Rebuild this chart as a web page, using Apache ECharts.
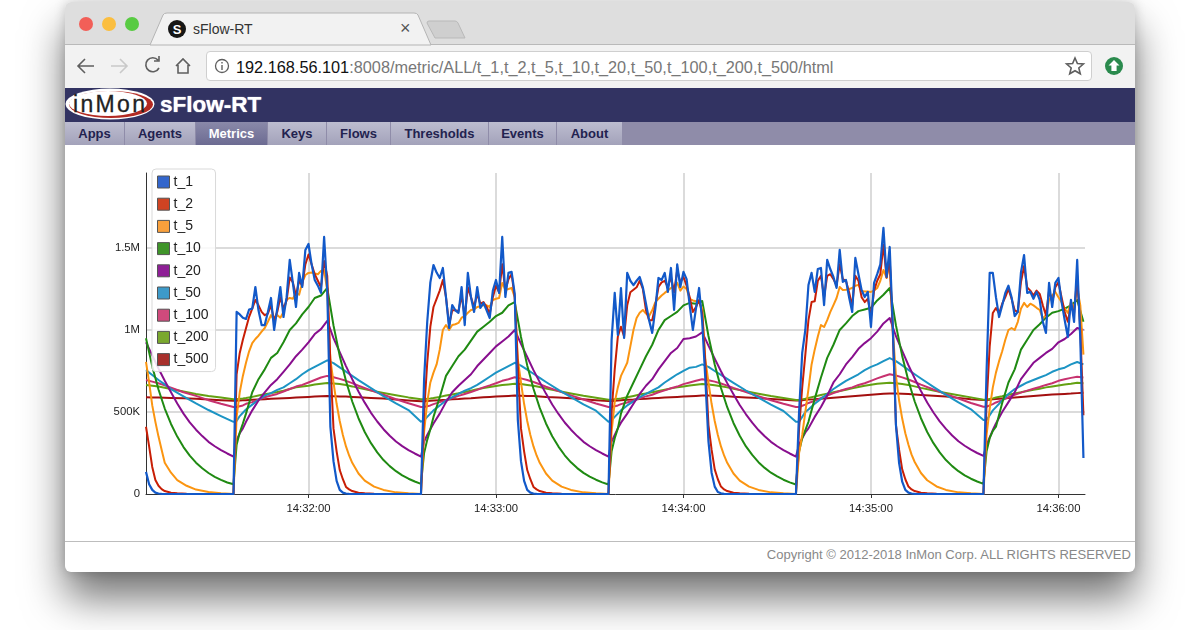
<!DOCTYPE html>
<html>
<head>
<meta charset="utf-8">
<title>sFlow-RT</title>
<script src="https://cdn.jsdelivr.net/npm/echarts@6/dist/echarts.min.js"></script>
<style>
html,body{margin:0;padding:0;width:1200px;height:630px;overflow:hidden;background:#fff;font-family:"Liberation Sans",Arial,sans-serif}
#win{position:absolute;left:65px;top:2px;width:1070px;height:570px;background:#fff;border-radius:6px;box-shadow:0 26px 42px rgba(0,0,0,.55),0 0 12px rgba(0,0,0,.18);overflow:hidden}
.abs{position:absolute}
#titlebar{left:0;top:0;width:1070px;height:42px;background:#dedede}
#toolbar{left:0;top:42px;width:1070px;height:44px;background:#f2f2f2;border-top:1px solid #b9b9b9;box-sizing:border-box}
#addr{left:141px;top:49px;width:886px;height:30px;background:#fff;border:1px solid #cfcfcf;border-radius:4px;box-sizing:border-box}
#url{left:171px;top:55px;font-size:16.3px;line-height:20px;color:#777;white-space:nowrap}
#url b{font-weight:normal;color:#111}
#tabtitle{left:128px;top:19px;font-size:14px;line-height:16px;color:#333}
#tabclose{left:335px;top:16px;font-size:18px;line-height:20px;color:#555}
#header{left:0;top:86px;width:1070px;height:34px;background:#323362}
#brand{left:95px;top:90px;font-size:22.5px;line-height:26px;font-weight:bold;color:#fff;text-shadow:0 0 1px #fff}
#nav{left:0;top:120px;width:1070px;height:23px;background:#8f8ca9}
#nav a{position:absolute;top:0;height:23px;line-height:23px;text-align:center;font-size:13px;font-weight:bold;color:#22224f;background:linear-gradient(#bdbdd0,#a3a2ba);border-right:1px solid #8f8ca9;box-sizing:border-box}
#nav a.on{color:#fff;background:linear-gradient(#8a89a9,#6c6b92)}
#chart{left:0;top:143px;width:1070px;height:396px}
#footline{left:0;top:539px;width:1070px;height:1px;background:#bdbdbd}
#copy{right:4px;top:545px;font-size:13.05px;line-height:16px;color:#888}
</style>
</head>
<body>
<div id="win">
	<div class="abs" id="titlebar"></div>
	<div class="abs" id="toolbar"></div>
	<div class="abs" id="addr"></div>
	<svg class="abs" style="left:0;top:0" width="1070" height="86">
		<circle cx="21" cy="22" r="7" fill="#f25f58"/>
		<circle cx="44" cy="22" r="7" fill="#fbbe3f"/>
		<circle cx="67" cy="22" r="7" fill="#58cb42"/>
		<path d="M85 43 L98 13 Q99 11 102 11 L349 11 Q352 11 353 13 L366 43 Z" fill="#f2f2f2" stroke="#b4b4b4"/>
		<path d="M362 21 Q362 19 364 19 L390 19 Q392 19 393 21 L400 36 L370 36 Z" fill="#cfcfcf" stroke="#b9b9b9"/>
		<circle cx="112" cy="27" r="9" fill="#161616"/>
		<text x="112" y="32" text-anchor="middle" font-size="13" font-weight="bold" fill="#fff" font-family="Liberation Sans">S</text>
		<g fill="none" stroke="#5f5f5f" stroke-width="1.6">
			<path d="M29 64 H14 M20 57 L13 64 L20 71"/>
			<path d="M46 64 H61 M55 57 L62 64 L55 71" stroke="#c9c9c9"/>
			<path d="M93 58 A7 7 0 1 0 94 66 M94 54 V59 H89"/>
			<path d="M111 64 L118 57 L125 64 M113 63 V71 H123 V63"/>
			<circle cx="157" cy="64" r="6.5" stroke-width="1.3"/>
			<path d="M157 63 V68 M157 60 V61.4" stroke-width="1.4"/>
			<path d="M1010 56 L1012.4 61.6 L1018.4 62 L1013.8 66 L1015.3 71.8 L1010 68.7 L1004.7 71.8 L1006.2 66 L1001.6 62 L1007.6 61.6 Z"/>
		</g>
		<circle cx="1049" cy="64" r="9" fill="#2a8a4d"/>
		<path d="M1049 58 L1054.5 63.6 H1051.6 V69 H1046.4 V63.6 H1043.5 Z" fill="#fff"/>
	</svg>
	<div class="abs" id="tabtitle">sFlow-RT</div>
	<div class="abs" id="tabclose">×</div>
	<div class="abs" id="url"><b>192.168.56.101</b>:8008/metric/ALL/t_1,t_2,t_5,t_10,t_20,t_50,t_100,t_200,t_500/html</div>
	<div class="abs" id="header"></div>
	<svg class="abs" style="left:0;top:86px" width="100" height="34">
		<ellipse cx="45" cy="16" rx="44.5" ry="15.5" fill="#fff"/>
		<ellipse cx="46" cy="16.5" rx="42" ry="13.5" fill="#b32a22"/>
		<ellipse cx="43" cy="15.5" rx="39" ry="12.5" fill="#fff"/>
		<text x="44" y="23.5" text-anchor="middle" font-size="23" stroke="#222" stroke-width=".3" fill="#222" textLength="72" lengthAdjust="spacing" font-family="Liberation Sans">inMon</text>
	</svg>
	<div class="abs" id="brand">sFlow-RT</div>
	<div class="abs" id="nav">
		<a style="left:0;width:60px">Apps</a>
		<a style="left:60px;width:71px">Agents</a>
		<a class="on" style="left:131px;width:72px">Metrics</a>
		<a style="left:203px;width:59px">Keys</a>
		<a style="left:262px;width:64px">Flows</a>
		<a style="left:326px;width:98px">Thresholds</a>
		<a style="left:424px;width:68px">Events</a>
		<a style="left:492px;width:66px">About</a>
	</div>
	<div class="abs" id="chart"></div>
	<div class="abs" id="footline"></div>
	<div class="abs" id="copy">Copyright © 2012-2018 InMon Corp. ALL RIGHTS RESERVED</div>
</div>
<script>
//每个周期的起始时间(14:30:36起,每60秒一次)
var cycleStarts = ["14:30:36","14:31:36","14:32:36","14:33:36","14:34:36","14:35:36"];
var firstSample = "14:31:08", lastSample = "14:36:08";
//采样点相对周期起点的秒数
var fineOffsets = [0,1,2,3,4,5,6,7,8,9,10,11,12,13,14,15,16,17,18,19,20,21,22,23,24,25,26,27,28,29,30,31,32,33,34,35,36,37,38,40,42,45,48,52,56];
var midOffsets = [0,1,2,3,4,6,8,10,12,14,16,18,20,22,24,26,28,30,32,34,36,38,40,42,44,46,48,50,52,54,56,58];
var coarseOffsets = [0,1,2,3,4,6,8,10,12,14,16,18,20,22,24,26,28,30,32,34,36,38,40,44,48,52,56];

//单位:K
var t_1 = [
	135,60,25,8,3,1,0,0,0,0,0,0,0,
	0,1110,1095,1075,1067,1125,1130,1262,1120,1030,1030,1110,1195,1000,1130,1262,1079,1200,1427,1287,1140,1348,1262,1488,1524,1400,1305,1270,1226,1567,1244,410,200,80,25,8,3,1,0,0,0,0,0,0,0,
	0,700,1050,1290,1396,1350,1317,1378,1200,1012,1152,1120,1104,1262,1030,1348,1200,1110,1262,1134,1165,1120,1073,1240,1305,1226,1567,1201,1348,1354,1220,450,200,80,25,8,3,1,0,0,0,0,0,0,0,
	0,939,1226,970,1256,951,1348,1300,1274,1300,1323,1260,1160,1060,982,1130,1317,1305,1348,1232,1378,1122,1400,1262,1354,1310,1150,1000,1130,1256,1050,700,320,130,45,12,4,1,0,0,0,0,0,0,0,
	0,500,860,1000,1274,1348,1232,1372,1378,1152,1427,1370,1323,1256,1488,1293,1305,1200,1110,1439,1340,1244,1201,1232,1018,1287,1340,1400,1622,1323,1506,1018,420,190,75,25,8,3,1,0,0,0,0,0,0,
	0,750,1348,1348,1200,1079,1150,1226,1270,1200,1085,1110,1350,1457,1226,1232,1190,1232,1183,1050,982,1287,1140,1287,1317,1171,1060,957,1183,1049,1427,939,220
];
var t_2 = [
	410,290,165,85,50,30,18,8,4,1,0,0,0,
	0,730,860,940,1010,1080,1130,1183,1150,1110,1090,1100,1150,1060,1110,1200,1130,1180,1320,1290,1210,1300,1270,1400,1460,1400,1340,1300,1260,1420,1330,800,400,260,146,90,43,28,18,8,4,1,0,0,0,
	0,500,800,1020,1140,1190,1240,1305,1200,1030,1120,1120,1115,1210,1080,1260,1200,1140,1220,1160,1170,1140,1100,1200,1270,1230,1400,1240,1310,1340,1200,780,400,260,146,90,43,28,18,8,4,1,0,0,0,
	0,500,760,960,1020,960,1150,1230,1245,1260,1300,1250,1120,1060,1060,1150,1262,1290,1300,1260,1323,1230,1366,1290,1323,1270,1200,1110,1140,1183,1100,800,420,270,150,90,45,28,18,8,4,1,0,0,0,
	0,400,650,850,1060,1170,1175,1300,1330,1200,1330,1340,1310,1270,1400,1310,1300,1230,1150,1330,1300,1200,1170,1190,1080,1240,1300,1340,1520,1320,1440,980,420,270,150,90,45,28,18,8,4,1,0,0,0,
	0,550,900,1104,1134,1100,1160,1200,1250,1190,1120,1110,1290,1390,1260,1240,1210,1240,1220,1150,1090,1240,1170,1260,1290,1200,1110,1050,1150,1100,1330,1000,480
];
var t_5 = [
	805,680,540,440,350,270,190,130,85,50,27,12,5,
	0,470,620,720,800,870,920,945,965,990,1012,1050,1091,1060,1091,1075,1110,1185,1195,1190,1225,1215,1290,1335,1348,1350,1345,1340,1360,1366,1240,820,680,550,445,360,290,235,190,125,82,45,25,10,4,
	0,380,560,680,740,790,880,1000,1030,1000,1030,1035,1043,1075,1085,1105,1122,1125,1140,1145,1152,1150,1140,1183,1190,1195,1287,1244,1250,1256,1200,820,680,550,445,360,290,235,190,125,82,45,25,10,4,
	0,380,560,650,720,760,800,900,1000,1073,1105,1122,1100,1085,1120,1170,1190,1210,1226,1240,1256,1270,1287,1240,1265,1250,1190,1180,1175,1170,1130,820,680,550,445,360,290,235,190,125,82,45,25,10,4,
	0,250,360,500,640,790,880,960,1030,1018,1060,1110,1152,1195,1262,1244,1245,1250,1256,1270,1275,1238,1235,1235,1232,1240,1256,1300,1366,1317,1415,1000,720,570,460,370,300,240,195,128,84,46,25,10,4,
	0,360,520,650,740,810,870,940,1000,1012,1000,1050,1130,1165,1140,1160,1150,1135,1122,1070,1090,1183,1210,1232,1200,1170,1130,1104,1171,1134,1256,1150,850
];
var t_10 = [
	950,778,637,521,427,350,286,234,191,157,128,105,86,70,
	60,300,375,430,490,620,700,760,830,860,925,1000,1040,1095,1140,1195,1210,1256,1028,842,689,564,462,378,310,254,207,170,139,114,93,76,
	62,250,330,395,470,590,720,780,840,880,935,990,1020,1050,1085,1105,1150,1170,957,784,642,525,430,352,289,236,193,158,129,106,87,71,
	58,260,340,400,490,600,680,760,840,910,1000,1060,1085,1110,1150,1165,1160,1177,963,789,646,529,433,355,290,238,194,159,130,107,87,71,
	58,260,340,390,440,580,710,830,910,1000,1040,1085,1115,1125,1135,1180,1215,1256,1028,842,689,564,462,378,310,254,207,170,139,114,93,76,
	62,260,340,385,410,555,680,760,880,940,1000,1035,1075,1105,1115,1130,1150,1183,1050
];
var t_20 = [
	925,845,765,690,620,552,490,437,392,353,318,291,268,247,
	228,330,370,400,440,510,570,620,665,700,745,790,840,880,925,975,1005,1055,950,865,780,700,625,557,495,442,395,355,320,292,268,247,
	228,320,360,395,430,490,560,620,660,695,730,780,820,860,900,930,960,1000,915,835,755,682,612,546,488,436,392,353,318,291,268,247,
	228,320,360,400,435,490,550,610,660,700,760,810,860,890,945,950,960,985,905,825,748,676,608,543,486,435,390,352,318,291,268,247,
	228,300,340,375,400,470,530,600,680,730,790,835,885,920,950,990,1040,1073,962,872,785,705,628,558,497,443,397,357,322,294,270,250,
	232,300,345,390,430,500,560,620,700,750,800,830,860,885,925,945,975,1012,1000
];
var t_50 = [
	755,725,695,668,640,595,552,512,475,
	440,445,475,495,515,545,575,600,615,635,650,675,700,730,755,775,795,815,798,772,746,720,694,645,597,553,512,
	441,450,470,490,510,540,570,590,610,630,645,665,690,715,740,760,780,800,783,758,733,708,683,635,590,547,508,
	440,450,470,490,510,540,565,590,610,630,650,680,705,730,750,770,775,790,775,750,726,702,678,631,587,545,506,
	440,440,470,500,515,550,580,610,640,665,690,710,730,755,775,790,810,829,810,784,757,730,704,653,604,558,516,
	451,450,480,510,530,570,610,640,660,680,695,710,725,745,760,770,790,805,790
];
var t_100 = [
	695,685,675,662,648,620,598,572,550,
	530,530,535,540,550,560,575,590,600,610,625,640,655,665,680,695,710,720,712,702,690,676,660,632,605,578,553,
	530,530,535,540,548,560,572,585,598,610,622,635,650,662,675,690,700,712,705,695,683,669,654,627,601,576,552,
	530,530,535,540,548,558,570,583,595,605,620,632,645,655,670,680,690,700,694,685,674,661,647,621,596,572,550,
	530,530,538,545,555,568,585,600,615,628,640,650,665,675,690,705,718,730,722,711,698,683,667,637,609,582,555,
	532,532,540,548,558,572,590,605,618,630,642,652,665,675,690,700,708,715,710
];
var t_200 = [
	665,660,655,648,640,625,610,598,588,
	578,578,580,582,585,592,600,608,615,622,630,640,650,655,660,667,672,677,674,670,664,656,647,631,616,602,589,
	578,578,580,582,585,592,600,607,614,622,630,638,646,652,658,664,668,672,670,665,660,652,643,628,613,599,587,
	575,575,578,580,583,590,598,606,613,620,628,636,644,650,656,662,666,670,668,663,657,650,641,626,611,597,585,
	573,573,577,581,586,594,603,612,620,628,636,644,652,660,666,672,675,678,675,670,665,656,647,631,616,602,589,
	575,575,579,583,588,596,605,613,620,628,636,642,650,656,662,668,672,678,675
];
var t_500 = [
	590,589,588,587,586,583,580,576,572,
	569,569,570,571,572,574,576,578,580,582,584,586,588,590,592,594,596,597,596,595,594,592,590,586,582,576,570,
	565,565,567,568,570,572,574,577,579,582,584,587,590,592,594,596,598,600,599,598,597,595,592,588,584,578,572,
	567,567,569,570,572,574,576,579,581,584,586,588,590,592,594,596,598,600,600,599,598,596,593,589,585,579,574,
	570,570,572,574,576,578,581,584,587,590,593,596,599,602,605,608,611,613,612,611,610,607,604,599,594,586,578,
	573,573,575,577,579,582,585,588,591,594,597,600,603,606,608,610,612,615,617
];

var names = ["t_1","t_2","t_5","t_10","t_20","t_50","t_100","t_200","t_500"];
var lineColors = ["#1259c9","#c81e05","#fb9511","#1f8a12","#880e8e","#1c94c4","#c7326f","#64a112","#a30f0f"];
var swatchColors = ["#3366cc","#cf4322","#f9a03c","#3f9429","#8e1f96","#3d9ac9","#cf4a7c","#7aa82e","#a8302c"];
var values = [t_1,t_2,t_5,t_10,t_20,t_50,t_100,t_200,t_500];
var offsets = [fineOffsets,fineOffsets,fineOffsets,midOffsets,midOffsets,coarseOffsets,coarseOffsets,coarseOffsets,coarseOffsets];

function clock(s){
	var p = s.split(":");
	return new Date(2018,0,15,+p[0],+p[1],+p[2]).getTime();
}
function $each(arr,fn){ for(var i=0;i<arr.length;i++) fn(arr[i],i); }

//把周期和偏移组合成时间轴
function sampleTimes(list){
	var out = [];
	$each(cycleStarts,function(start){
		$each(list,function(o){
			var t = clock(start)+o*1000;
			if(t>=clock(firstSample) && t<=clock(lastSample)) out.push(t);
		});
	});
	return out;
}

var series = [];
$each(names,function(name,i){
	var times = sampleTimes(offsets[i]);
	if(times.length!=values[i].length) console.error(name,times.length,values[i].length);
	series.push({
		name:name,
		type:"line",
		showSymbol:false,
		sampling:"none",
		z:20-i,
		lineStyle:{width:i==0 ? 2.2 : 2,color:lineColors[i],join:"round"},
		itemStyle:{color:lineColors[i]},
		data:times.map(function(t,k){ return [t,values[i][k]*1000]; })
	});
});

var myChart = echarts.init(document.getElementById("chart"));
myChart.setOption({
	animation:false,
	grid:{left:81,right:50,top:28,bottom:47,containLabel:false},
	legend:{
		orient:"vertical",left:87,top:24,z:40,
		icon:"rect",itemWidth:12,itemHeight:12,itemGap:8.2,
		padding:[6,7,5,5],
		backgroundColor:"rgba(255,255,255,0.85)",
		borderColor:"#d9d9d9",borderWidth:1,borderRadius:4,
		textStyle:{fontFamily:"Liberation Sans",fontSize:14,color:"#222",padding:[0,0,0,-1]},
		data:names.map(function(n,i){
			return {name:n,icon:"rect",itemStyle:{color:swatchColors[i],borderColor:"#555",borderWidth:1}};
		})
	},
	xAxis:{
		type:"time",
		min:clock(firstSample),
		max:clock(firstSample)+300500,
		minInterval:60000,maxInterval:60000,
		axisLine:{onZero:false,lineStyle:{color:"#333",width:1}},
		axisTick:{show:true,length:4,lineStyle:{color:"#333"}},
		axisLabel:{formatter:"{HH}:{mm}:{ss}",fontFamily:"Liberation Sans",fontSize:11.3,color:"#222",margin:9,showMinLabel:false,showMaxLabel:false,hideOverlap:false},
		splitLine:{show:true,showMinLine:false,showMaxLine:false,lineStyle:{color:"#cfcfcf",width:1.5}},
		minorTick:{show:false}
	},
	yAxis:{
		type:"value",
		min:0,max:1957000,interval:500000,
		axisLine:{show:true,lineStyle:{color:"#333",width:1}},
		axisTick:{show:false},
		axisLabel:{
			fontFamily:"Liberation Sans",fontSize:11.3,color:"#222",margin:6,showMaxLabel:false,
			formatter:function(v){
				if(v>=1000000) return (v/1000000)+"M";
				if(v>=1000) return (v/1000)+"K";
				return ""+v;
			}
		},
		splitLine:{show:true,showMaxLine:false,showMinLine:false,lineStyle:{color:"#cfcfcf",width:1.5}}
	},
	series:series
});
</script>
</body>
</html>
